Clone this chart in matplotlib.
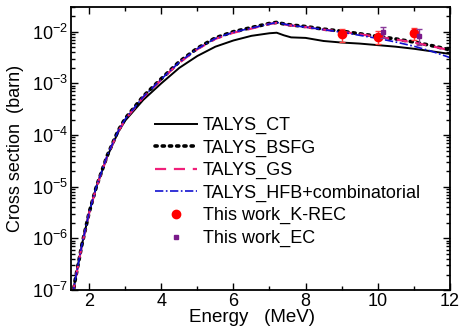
import numpy as np
import matplotlib
matplotlib.use("Agg")
import matplotlib.pyplot as plt
from matplotlib.ticker import LogLocator, MultipleLocator, NullFormatter

plt.rcParams['font.family'] = ['Liberation Sans', 'DejaVu Sans']
plt.rcParams['mathtext.fontset'] = 'custom'
plt.rcParams['mathtext.rm'] = 'Liberation Sans'
plt.rcParams['mathtext.it'] = 'Liberation Sans:italic'
plt.rcParams['mathtext.bf'] = 'Liberation Sans:bold'

# Energies (MeV)
energy = [1.55, 1.6, 1.8, 2.0, 2.2, 2.5, 2.8, 3.0, 3.5, 4.0, 4.5, 5.0, 5.5, 6.0,
          6.5, 7.0, 7.2, 7.4, 7.6, 8.0, 8.5, 9.0, 9.5, 10.0, 10.5, 11.0, 11.5, 12.0]
# log10 cross sections (barn)
log_ct = [-7.1, -6.85, -6.12, -5.5, -5.0, -4.42, -3.95, -3.72, -3.32, -3.0, -2.70,
          -2.47, -2.29, -2.17, -2.08, -2.03, -2.02, -2.07, -2.11, -2.12, -2.18,
          -2.21, -2.23, -2.26, -2.29, -2.33, -2.38, -2.43]
log_bsfg = [-7.1, -6.85, -6.12, -5.5, -5.0, -4.40, -3.92, -3.68, -3.25, -2.91, -2.58,
            -2.32, -2.12, -2.00, -1.92, -1.84, -1.82, -1.85, -1.87, -1.90, -1.95,
            -1.99, -2.04, -2.09, -2.14, -2.20, -2.27, -2.35]
log_gs = [-7.1, -6.86, -6.13, -5.51, -5.01, -4.41, -3.94, -3.70, -3.27, -2.93, -2.60,
          -2.34, -2.14, -2.02, -1.94, -1.85, -1.83, -1.86, -1.88, -1.91, -1.96,
          -2.00, -2.05, -2.10, -2.15, -2.21, -2.28, -2.36]
log_hfb = [-7.1, -6.85, -6.12, -5.5, -5.0, -4.40, -3.93, -3.69, -3.26, -2.92, -2.59,
           -2.33, -2.13, -2.01, -1.93, -1.85, -1.82, -1.85, -1.88, -1.91, -1.96,
           -2.01, -2.07, -2.13, -2.20, -2.28, -2.38, -2.50]

# Measured points
krec_e = [9.0, 10.0, 11.0]
krec_y = [0.0089, 0.0079, 0.0093]
krec_err = [0.0025, 0.0022, 0.0025]
ec_e = [10.15, 11.15]
ec_y = [0.0100, 0.0083]
ec_err = [0.0026, 0.0028]

fig = plt.figure(figsize=(4.74, 3.35), dpi=100)
ax = fig.add_axes([0.150, 0.134, 0.799, 0.845])

E = np.array(energy)
ax.plot(E, 10 ** np.array(log_ct), '-', color='black', lw=1.4, label='TALYS_CT')
ax.plot(E, 10 ** np.array(log_bsfg), color='black', lw=2.6, linestyle=(0, (0.6, 1.4)),
        dash_capstyle='round', label='TALYS_BSFG')
ax.plot(E, 10 ** np.array(log_gs), color='#f0207a', lw=1.6, linestyle=(0, (5, 3.5)),
        label='TALYS_GS')
ax.plot(E, 10 ** np.array(log_hfb), color='#1010d0', lw=1.2, linestyle=(0, (5, 1.5, 1, 1.5)),
        label='TALYS_HFB+combinatorial')
ax.errorbar(krec_e, krec_y, yerr=krec_err, fmt='none',
            ecolor='#ff4040', elinewidth=1.0, capsize=2.5, capthick=1.0)
ax.plot(krec_e, krec_y, 'o', color='#ff0000', ms=6, ls='none', label='This work_K-REC')
ax.errorbar(ec_e, ec_y, yerr=ec_err, fmt='none',
            ecolor='#8a3a9a', elinewidth=1.0, capsize=2.5, capthick=1.0)
ax.plot(ec_e, ec_y, 's', color='#7a1a8a', ms=3.5, ls='none', label='This work_EC')

ax.set_yscale('log')
ax.set_xlim(1.5, 12)
ax.set_ylim(1e-7, 3e-2)
ax.xaxis.set_major_locator(MultipleLocator(2))
ax.xaxis.set_minor_locator(MultipleLocator(1))
ax.yaxis.set_major_locator(LogLocator(base=10, numticks=10))
ax.yaxis.set_minor_locator(LogLocator(base=10, subs=np.arange(2, 10), numticks=20))
ax.yaxis.set_minor_formatter(NullFormatter())
ax.tick_params(which='both', direction='in', top=True, right=True, width=1.0)
ax.tick_params(which='major', length=5, labelsize=13, pad=2)
ax.tick_params(which='minor', length=3)
for s in ax.spines.values():
    s.set_linewidth(1.3)

ax.set_xlabel('Energy   (MeV)', fontsize=13.5, labelpad=0)
ax.xaxis.set_label_coords(0.477, -0.065, transform=ax.transAxes)
ax.xaxis.label.set_va('top')
ax.set_ylabel('Cross section  (barn)', fontsize=13, labelpad=6)

leg = ax.legend(loc='upper left', bbox_to_anchor=(0.222, 0.612),
                frameon=False, fontsize=13, handlelength=2.3, handletextpad=0.35,
                labelspacing=0.3, borderaxespad=0, borderpad=0)

fig.savefig('out.png', dpi=100)
